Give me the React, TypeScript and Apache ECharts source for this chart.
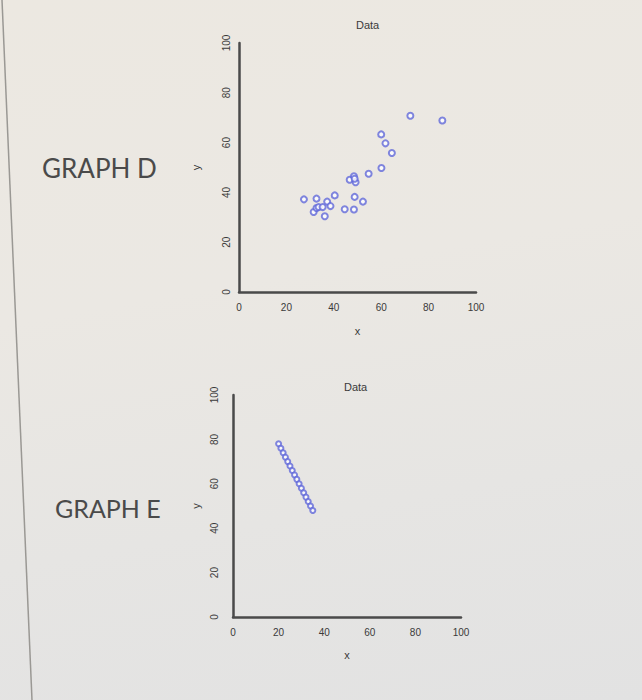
import React, { useEffect, useRef } from 'react';
import * as echarts from 'echarts';

// Graph D: scattered cloud, rising to the right
const dataDX = [27.4, 32.7, 31.5, 32.7, 33.6, 35.3, 37.2, 38.6, 40.4, 36.2, 44.6, 48.5, 48.8, 52.3, 46.7, 48.5, 49.2, 48.8, 54.7, 60.1, 60.0, 61.8, 64.5, 72.3, 85.8];
const dataDY = [37.2, 37.5, 32.1, 33.7, 34.1, 34.1, 36.3, 34.5, 38.8, 30.4, 33.2, 33.1, 38.2, 36.3, 45.1, 46.5, 44.1, 45.5, 47.5, 49.8, 63.3, 59.7, 55.8, 70.8, 68.9];

// Graph E: tight falling line of points
const dataEX = [20, 21, 22, 23, 24, 25, 26, 27, 28, 29, 30, 31, 32, 33, 34, 35];
const dataEY = [78, 76, 74, 72, 70, 68, 66, 64, 62, 60, 58, 56, 54, 52, 50, 48];

const tickLabels = ['0', '20', '40', '60', '80', '100'];

const graphNames = ['GRAPH D', 'GRAPH E'];
const plotTitle = 'Data';

const FONT = '"Liberation Sans", Arial, sans-serif';
const POINT = '#6169da';
const AXIS = '#4a4a4a';
const TEXT = '#3a3a3a';

function zip(xs: number[], ys: number[]) {
    return xs.map((x, i) => [x, ys[i]]);
}

function xAxisFor(gridIndex: number, labelMargin: number, nameGap: number) {
    return {
        type: 'value' as const,
        gridIndex,
        min: 0,
        max: 100,
        interval: 20,
        name: 'x',
        nameLocation: 'middle' as const,
        nameGap,
        nameTextStyle: { fontFamily: FONT, fontSize: 11, color: TEXT },
        axisLine: { show: true, onZero: false, lineStyle: { color: AXIS, width: 2.5 } },
        axisTick: { show: false },
        splitLine: { show: false },
        axisLabel: {
            fontFamily: FONT,
            fontSize: 10,
            color: TEXT,
            margin: labelMargin,
            formatter: (v: number) => tickLabels[Math.round(v / 20)] ?? '',
        },
    };
}

function yAxisFor(gridIndex: number, labelMargin: number, nameGap: number) {
    return {
        type: 'value' as const,
        gridIndex,
        min: 0,
        max: 100,
        interval: 20,
        name: 'y',
        nameLocation: 'middle' as const,
        nameRotate: 90,
        nameGap,
        nameTextStyle: { fontFamily: FONT, fontSize: 11, color: TEXT },
        axisLine: { show: true, onZero: false, lineStyle: { color: AXIS, width: 2.5 } },
        axisTick: { show: false },
        splitLine: { show: false },
        axisLabel: {
            fontFamily: FONT,
            fontSize: 10,
            color: TEXT,
            rotate: 90,
            margin: labelMargin,
            formatter: (v: number) => tickLabels[Math.round(v / 20)] ?? '',
        },
    };
}

export default function App() {
    const chartRef = useRef<HTMLDivElement>(null);

    useEffect(() => {
        document.body.style.margin = '0';
        if (chartRef.current === null) return;
        const chart = echarts.init(chartRef.current, undefined, { renderer: 'svg' });

        const option: echarts.EChartsOption = {
            animation: false,
            backgroundColor: 'transparent',
            title: [
                {
                    text: plotTitle,
                    left: 351,
                    top: 14,
                    textStyle: { fontFamily: FONT, fontSize: 11, fontWeight: 'normal', color: TEXT },
                },
                {
                    text: plotTitle,
                    left: 339,
                    top: 376,
                    textStyle: { fontFamily: FONT, fontSize: 11, fontWeight: 'normal', color: TEXT },
                },
            ],
            grid: [
                { left: 239, top: 43, width: 237, height: 249 },
                { left: 233, top: 395, width: 228, height: 222 },
            ],
            xAxis: [xAxisFor(0, 10, 33), xAxisFor(1, 10, 32)],
            yAxis: [yAxisFor(0, 8, 38), yAxisFor(1, 14, 32)],
            series: [
                {
                    type: 'scatter',
                    xAxisIndex: 0,
                    yAxisIndex: 0,
                    symbol: 'emptyCircle',
                    symbolSize: 6,
                    itemStyle: { color: POINT, borderColor: POINT, borderWidth: 1.6 },
                    data: zip(dataDX, dataDY),
                },
                {
                    type: 'scatter',
                    xAxisIndex: 1,
                    yAxisIndex: 1,
                    symbol: 'emptyCircle',
                    symbolSize: 5,
                    itemStyle: { color: POINT, borderColor: POINT, borderWidth: 1.4 },
                    data: zip(dataEX, dataEY),
                },
            ],
            graphic: [
                {
                    type: 'line',
                    shape: { x1: 2, y1: 0, x2: 32, y2: 700 },
                    style: { stroke: '#9a9894', lineWidth: 1.5 },
                    silent: true,
                },
                {
                    type: 'text',
                    left: 42,
                    top: 155,
                    style: { text: graphNames[0], fontFamily: 'Lato, "Open Sans", sans-serif', fontSize: 26, fill: '#4a4a4a' },
                },
                {
                    type: 'text',
                    left: 55,
                    top: 495,
                    style: { text: graphNames[1], fontFamily: 'Lato, "Open Sans", sans-serif', fontSize: 25, fill: '#4a4a4a' },
                },
            ],
        };

        chart.setOption(option);
        return () => {
            chart.dispose();
        };
    }, []);

    return (
        <div
            ref={chartRef}
            style={{
                width: 642,
                height: 700,
                background: 'linear-gradient(170deg, #ece8e1 0%, #ebe8e3 40%, #e6e5e3 70%, #e2e2e2 100%)',
            }}
        />
    );
}
